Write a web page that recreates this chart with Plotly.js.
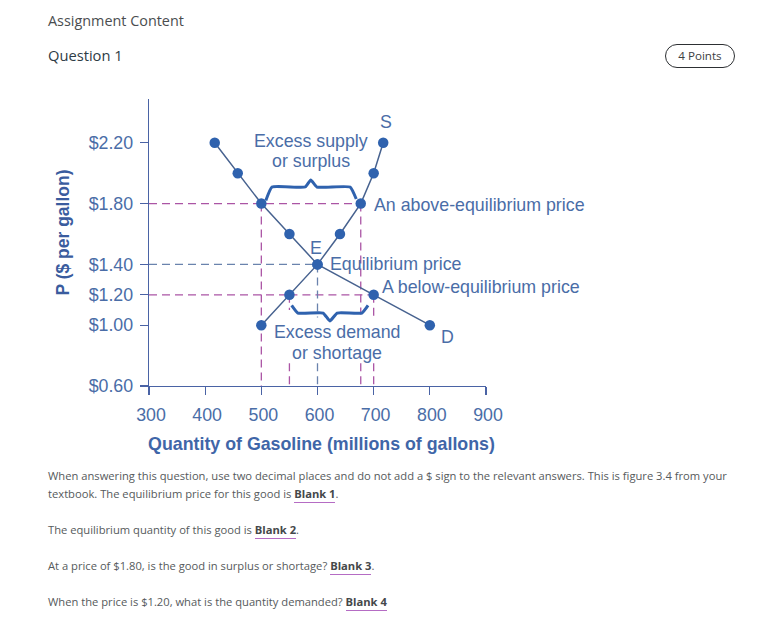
<!DOCTYPE html>
<html><head><meta charset="utf-8">
<script src="https://cdn.plot.ly/plotly-3.0.1.min.js"></script>
<style>
html,body{margin:0;padding:0;background:#fff;overflow:hidden}
#chart{position:absolute;left:0;top:0;width:768px;height:617px}
.t{position:absolute;font-family:"Open Sans",sans-serif;white-space:nowrap;color:#565a5c;font-size:11.2px;line-height:16px}
.t u{text-decoration:none;border-bottom:1px solid #b56cc4;font-weight:700;color:#45484a;padding-bottom:1px}
</style></head><body>
<div id="chart"></div>
<div class="t" style="left:48px;top:13px;font-size:14.4px;color:#4a4d4f">Assignment Content</div>
<div class="t" style="left:48px;top:47px;font-size:14.7px;color:#2d3b45">Question 1</div>
<div class="t" style="left:665px;top:44px;width:68px;height:22px;line-height:22px;border:1px solid #2d3033;border-radius:12px;text-align:center;color:#3d4042;font-size:11.6px">4 Points</div>
<div class="t" style="left:48px;top:468px">When answering this question, use two decimal places and do not add a $ sign to the relevant answers. This is figure 3.4 from your</div>
<div class="t" style="left:48px;top:486px">textbook. The equilibrium price for this good is <u>Blank 1</u>.</div>
<div class="t" style="left:48px;top:522px">The equilibrium quantity of this good is <u>Blank 2</u>.</div>
<div class="t" style="left:48px;top:558px">At a price of $1.80, is the good in surplus or shortage? <u>Blank 3</u>.</div>
<div class="t" style="left:48px;top:594px">When the price is $1.20, what is the quantity demanded? <u>Blank 4</u></div>
<script>
const demandQty   = [417, 458, 500, 550, 600, 700, 800];
const demandPrice = [2.20, 2.00, 1.80, 1.60, 1.40, 1.20, 1.00];
const supplyQty   = [500, 550, 600, 640, 677, 700, 717];
const supplyPrice = [1.00, 1.20, 1.40, 1.60, 1.80, 2.00, 2.20];
const priceTicks  = [0.6, 1.0, 1.2, 1.4, 1.8, 2.2];
const priceLabels = ["$0.60", "$1.00", "$1.20", "$1.40", "$1.80", "$2.20"];
const qtyTicks    = [300, 400, 500, 600, 700, 800, 900];
const surplusBraceQty   = [508, 519, 578, 588, 599, 658, 669];
const surplusBracePrice = [1.82, 1.909, 1.909, 1.955, 1.909, 1.909, 1.83];
const shortageBraceQty   = [554, 565, 610, 622, 635, 679, 690];
const shortageBracePrice = [1.13, 1.08, 1.08, 1.028, 1.08, 1.08, 1.13];

const blue = "#2f62ae", line = "#47628f", txt = "#4a6da7", axisC = "#4a63a5";
const purple = "#ab55a5", dashBlue = "#6a83ad", fontFam = "Liberation Sans, Arial, sans-serif";

function dashed(x, y, color) {
  return {x, y, mode: "lines", type: "scatter", hoverinfo: "skip", showlegend: false,
          line: {color, width: 1.3, dash: "8px,5px"}};
}
const guides = [
  dashed([300, 677], [1.8, 1.8], purple),
  dashed([300, 550], [1.2, 1.2], purple),
  dashed([550, 700], [1.2, 1.2], purple),
  dashed([300, 600], [1.4, 1.4], dashBlue),
  dashed([500, 500], [1.8, 0.6], purple),
  dashed([550, 550], [1.2, 1.1], purple),
  dashed([550, 550], [0.75, 0.6], purple),
  dashed([600, 600], [1.4, 1.05], dashBlue),
  dashed([600, 600], [0.75, 0.6], dashBlue),
  dashed([677, 677], [1.8, 1.07], purple),
  dashed([677, 677], [0.75, 0.6], purple),
  dashed([700, 700], [1.2, 1.05], purple),
  dashed([700, 700], [0.75, 0.6], purple)
];
function curve(x, y, name) {
  return {x, y, name, mode: "lines+markers", type: "scatter", showlegend: false,
          line: {color: line, width: 1.5}, marker: {color: blue, size: 10.5}};
}
function brace(x, y) {
  return {x, y, mode: "lines", type: "scatter", hoverinfo: "skip", showlegend: false,
          line: {color: blue, width: 3, shape: "spline", smoothing: 0.4}};
}
function label(x, y, text, xanchor) {
  return {x, y, text, xanchor: xanchor || "left", yanchor: "middle", showarrow: false,
          font: {family: fontFam, size: 17.8, color: txt}};
}
const annotations = [
  label(722, 2.34, "S", "center"),
  label(588, 2.215, "Excess supply", "center"),
  label(588, 2.08, "or surplus", "center"),
  label(697, 1.79, "An above-equilibrium price"),
  label(597, 1.51, "E", "center"),
  label(619, 1.405, "Equilibrium price"),
  label(711, 1.25, "A below-equilibrium price"),
  label(635.5, 0.955, "Excess demand", "center"),
  label(635.5, 0.815, "or shortage", "center"),
  label(831, 0.925, "D", "center")
];
const layout = {
  width: 768, height: 617,
  margin: {l: 149.3, r: 282.3, t: 99, b: 231, pad: 0},
  paper_bgcolor: "rgba(0,0,0,0)", plot_bgcolor: "rgba(0,0,0,0)",
  showlegend: false,
  xaxis: {range: [300, 900], tickmode: "array", tickvals: qtyTicks, ticktext: qtyTicks.map(String),
          showgrid: false, zeroline: false, showline: true, linecolor: axisC, linewidth: 1.3,
          ticks: "outside", ticklen: 8, tickcolor: axisC, tickwidth: 1.3,
          ticklabelstandoff: 4, ticklabelshift: 2,
          tickfont: {family: fontFam, size: 17.8, color: txt},
          title: {text: "<b>Quantity of Gasoline (millions of gallons)</b>", standoff: 14,
                  font: {family: fontFam, size: 17.8, color: "#3f66a8"}}},
  yaxis: {range: [0.6, 2.488], tickmode: "array", tickvals: priceTicks, ticktext: priceLabels,
          showgrid: false, zeroline: false, showline: true, linecolor: axisC, linewidth: 1.3,
          ticks: "outside", ticklen: 8, tickcolor: axisC, tickwidth: 1.3,
          ticklabelstandoff: 3,
          tickfont: {family: fontFam, size: 17.8, color: txt},
          title: {text: "<b>P ($ per gallon)</b>", standoff: 16,
                  font: {family: fontFam, size: 17.5, color: "#3a5c9e"}}},
  annotations
};
const traces = guides.concat([
  curve(demandQty, demandPrice, "D"),
  curve(supplyQty, supplyPrice, "S"),
  brace(surplusBraceQty, surplusBracePrice),
  brace(shortageBraceQty, shortageBracePrice)
]);
Plotly.newPlot("chart", traces, layout, {displayModeBar: false, staticPlot: true}).then(function () {
  function nudge(sel, dx, dy) {
    const el = document.querySelector(sel);
    if (el) el.setAttribute("transform", "translate(" + dx + "," + dy + ") " + (el.getAttribute("transform") || ""));
  }
  nudge(".xtitle", 4, 0);
  nudge(".ytitle", 2, -10);
});
</script>
</body></html>
